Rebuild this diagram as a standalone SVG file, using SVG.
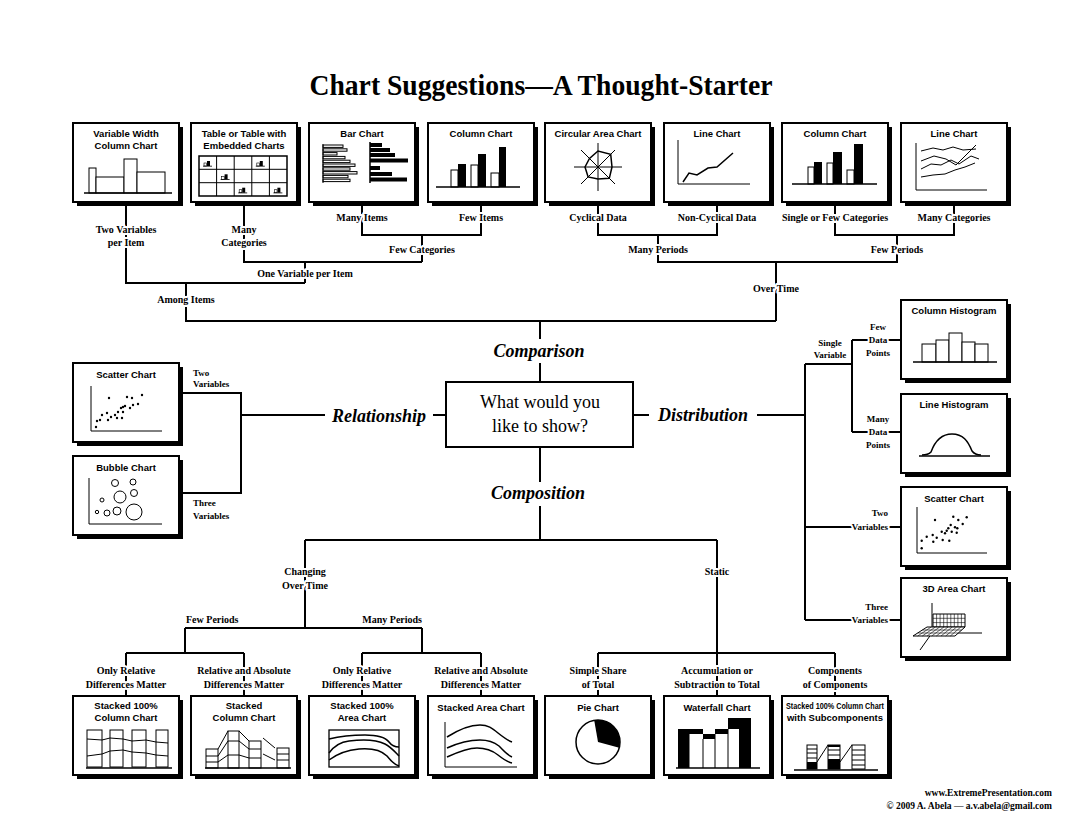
<svg xmlns="http://www.w3.org/2000/svg" xmlns:xlink="http://www.w3.org/1999/xlink" width="1080" height="835" viewBox="0 0 1080 835">
<style>
.bg{fill:#fff}
.sh{fill:#000}
.bx{fill:#fff;stroke:#000;stroke-width:2}
.tt{font-family:"Liberation Sans Narrow","Liberation Sans",Arial,sans-serif;font-weight:bold;font-size:9.5px;text-anchor:middle;fill:#000}
.lb{font-family:"Liberation Serif","Times New Roman",serif;font-weight:bold;font-size:10px;text-anchor:middle;fill:#000;paint-order:stroke;stroke:#fff;stroke-width:4px;stroke-linejoin:round}
.ls{font-size:9px}
.st{text-anchor:start}
.en{text-anchor:end}
.cd{font-family:"Liberation Serif","Times New Roman",serif;font-weight:bold;font-style:italic;font-size:18px;text-anchor:middle;fill:#000}
.cn{stroke:#000;stroke-width:2;fill:none}
.ic{stroke:#000;stroke-width:1;fill:none}
.ik{stroke:#000;stroke-width:1.5;fill:none}
.w{fill:#fff;stroke:#000;stroke-width:1}
.k{fill:#000}
.d{fill:#000}
</style>
<defs>
<g id="frame"><rect class="sh" x="4" y="4" width="106" height="79"/><rect class="bx" x="0" y="0" width="106" height="79"/></g>
<g id="mini"><rect x="1" y="2" width="2.6" height="3" fill="#fff" stroke="#000" stroke-width="0.6"/><rect x="4" y="0" width="3" height="5" fill="#000"/><path d="M0,5.2 H9" stroke="#000" stroke-width="0.8"/></g>
</defs>
<rect class="bg" x="0" y="0" width="1080" height="835"/>

<text x="541" y="95" font-family="'Liberation Serif','Times New Roman',serif" font-weight="bold" font-size="30" text-anchor="middle" textLength="463" lengthAdjust="spacingAndGlyphs">Chart Suggestions—A Thought-Starter</text>

<g id="connectors">
<path class="cn" d="M126,202 V283 H305 M244,202 V262 H422 M362,202 V235 H481 V202 M422,235 V262 M305,262 V283 M186,283 V321 H776 M598,202 V235 H717 V202 M835,202 V235 H954 V202 M658,235 V262 H897 V235 M776,262 V321 M540,321 V339 M540,363 V382"/>
<path class="cn" d="M446,415 H433 M325,415 H241 M182,393 H241 V493 H182"/>
<path class="cn" d="M633,415 H649 M757,415 H805 M805,364 V620 M805,364 H852 M852,340 V432 M852,340 H901 M852,432 H901 M805,527 H901 M805,620 H901"/>
<path class="cn" d="M540,447 V482 M540,506 V540 M305,540 H717 M305,540 V628 M185,628 H422 M185,628 V653 M126,653 H244 M126,653 V696 M244,653 V696 M422,628 V653 M362,653 H481 M362,653 V696 M481,653 V696 M717,540 V653 M598,653 H835 M598,653 V696 M717,653 V696 M835,653 V696"/>
</g>

<g id="labels">
<text class="lb" x="126" y="233">Two Variables</text><text class="lb" x="126" y="246">per Item</text>
<text class="lb" x="244" y="233">Many</text><text class="lb" x="244" y="246">Categories</text>
<text class="lb" x="362" y="221">Many Items</text>
<text class="lb" x="481" y="221">Few Items</text>
<text class="lb" x="422" y="253">Few Categories</text>
<text class="lb" x="305" y="277">One Variable per Item</text>
<text class="lb" x="186" y="303">Among Items</text>
<text class="lb" x="598" y="221">Cyclical Data</text>
<text class="lb" x="717" y="221">Non-Cyclical Data</text>
<text class="lb" x="835" y="221">Single or Few Categories</text>
<text class="lb" x="954" y="221">Many Categories</text>
<text class="lb" x="658" y="253">Many Periods</text>
<text class="lb" x="897" y="253">Few Periods</text>
<text class="lb" x="776" y="292">Over Time</text>
<text class="lb ls st" x="193" y="376">Two</text><text class="lb ls st" x="193" y="387">Variables</text>
<text class="lb ls st" x="193" y="506">Three</text><text class="lb ls st" x="193" y="519">Variables</text>
<text class="lb ls" x="830" y="346">Single</text><text class="lb ls" x="830" y="358">Variable</text>
<text class="lb ls" x="878" y="330">Few</text><text class="lb ls" x="878" y="343">Data</text><text class="lb ls" x="878" y="356">Points</text>
<text class="lb ls" x="878" y="422">Many</text><text class="lb ls" x="878" y="435">Data</text><text class="lb ls" x="878" y="448">Points</text>
<text class="lb ls en" x="888" y="516">Two</text><text class="lb ls en" x="888" y="530">Variables</text>
<text class="lb ls en" x="888" y="610">Three</text><text class="lb ls en" x="888" y="623">Variables</text>
<text class="lb" x="305" y="575">Changing</text><text class="lb" x="305" y="589">Over Time</text>
<text class="lb st" x="186" y="623">Few Periods</text>
<text class="lb en" x="422" y="623">Many Periods</text>
<text class="lb" x="717" y="575">Static</text>
<text class="lb" x="126" y="674">Only Relative</text><text class="lb" x="126" y="688">Differences Matter</text>
<text class="lb" x="244" y="674">Relative and Absolute</text><text class="lb" x="244" y="688">Differences Matter</text>
<text class="lb" x="362" y="674">Only Relative</text><text class="lb" x="362" y="688">Differences Matter</text>
<text class="lb" x="481" y="674">Relative and Absolute</text><text class="lb" x="481" y="688">Differences Matter</text>
<text class="lb" x="598" y="674">Simple Share</text><text class="lb" x="598" y="688">of Total</text>
<text class="lb" x="717" y="674">Accumulation or</text><text class="lb" x="717" y="688">Subtraction to Total</text>
<text class="lb" x="835" y="674">Components</text><text class="lb" x="835" y="688">of Components</text>
<text class="cd" x="539" y="357">Comparison</text>
<text class="cd" x="379" y="422">Relationship</text>
<text class="cd" x="703" y="421">Distribution</text>
<text class="cd" x="538" y="499">Composition</text>
<text class="lb en" x="1052" y="796" style="font-size:9.5px">www.ExtremePresentation.com</text>
<text class="lb en" x="1052" y="809" style="font-size:9.5px">© 2009  A. Abela — a.v.abela@gmail.com</text>
</g>

<g id="center">
<rect x="446" y="382" width="187" height="65" fill="#fff" stroke="#000" stroke-width="2"/>
<text x="540" y="408" font-family="'Liberation Serif','Times New Roman',serif" font-size="18" text-anchor="middle">What would you</text>
<text x="540" y="432" font-family="'Liberation Serif','Times New Roman',serif" font-size="18" text-anchor="middle">like to show?</text>
</g>

<g id="n-varwidth" transform="translate(73,123)"><use xlink:href="#frame"/>
<text class="tt" x="53" y="14">Variable Width</text><text class="tt" x="53" y="26">Column Chart</text>
<rect class="w" x="16" y="45" width="7" height="25"/><rect class="w" x="23" y="54" width="28" height="16"/><rect class="w" x="51" y="36" width="13" height="34"/><rect class="w" x="64" y="49" width="28" height="21"/>
<path class="ik" d="M11,70 H99"/></g>

<g id="n-table" transform="translate(191,123)"><use xlink:href="#frame"/>
<text class="tt" x="53" y="14">Table or Table with</text><text class="tt" x="53" y="26">Embedded Charts</text>
<rect x="8" y="33" width="88" height="40" fill="none" stroke="#000" stroke-width="1.5"/>
<path class="ic" d="M25.6,33 V73 M43.2,33 V73 M60.8,33 V73 M78.4,33 V73 M8,46.3 H96 M8,59.7 H96"/>
<use xlink:href="#mini" x="12" y="38"/><use xlink:href="#mini" x="29.6" y="51.3"/><use xlink:href="#mini" x="64.8" y="38"/><use xlink:href="#mini" x="47.2" y="64.7"/><use xlink:href="#mini" x="82.4" y="64.7"/></g>

<g id="n-bar" transform="translate(309,123)"><use xlink:href="#frame"/>
<text class="tt" x="53" y="14">Bar Chart</text>
<rect class="w" x="14" y="22" width="20" height="2.4"/><rect class="w" x="14" y="25.8" width="24" height="2.4"/><rect class="w" x="14" y="29.6" width="14" height="2.4"/><rect class="w" x="14" y="33.4" width="22" height="2.4"/><rect class="w" x="14" y="37.2" width="27" height="2.4"/><rect class="w" x="14" y="41" width="32" height="2.4"/><rect class="w" x="14" y="44.8" width="27" height="2.4"/><rect class="w" x="14" y="48.6" width="34" height="2.4"/><rect class="w" x="14" y="52.4" width="25" height="2.4"/><rect class="w" x="14" y="56.2" width="27" height="2.4"/>
<path class="ic" d="M14,21 V60"/>
<rect class="k" x="61" y="20" width="12" height="4"/><rect class="k" x="61" y="25" width="20" height="4"/><rect class="k" x="61" y="30" width="25" height="4"/><rect class="k" x="61" y="35.5" width="38" height="4"/><rect class="k" x="61" y="43" width="10" height="4"/><rect class="k" x="61" y="49" width="22" height="4"/><rect class="k" x="61" y="54.5" width="37" height="4"/>
<path class="ik" d="M61,19 V60"/></g>

<g id="n-column1" transform="translate(428,123)"><use xlink:href="#frame"/>
<text class="tt" x="53" y="14">Column Chart</text>
<rect class="w" x="23" y="47" width="7" height="17"/><rect class="k" x="30" y="41" width="8" height="23"/><rect class="w" x="43" y="42" width="7" height="22"/><rect class="k" x="50" y="31" width="8" height="33"/><rect class="w" x="63" y="50" width="8" height="14"/><rect class="k" x="71" y="24" width="7" height="40"/>
<path class="ik" d="M8,64 H92"/></g>

<g id="n-circular" transform="translate(545,123)"><use xlink:href="#frame"/>
<text class="tt" x="53" y="14">Circular Area Chart</text>
<path class="ic" d="M29,44 H77 M53,20 V68 M36,27 L70,61 M70,27 L36,61"/>
<polygon points="67,44 64.3,55.3 53,56 43.1,53.9 40,44 44.5,35.5 53,28 65.7,31.3" fill="none" stroke="#000" stroke-width="1.5"/></g>

<g id="n-line1" transform="translate(664,123)"><use xlink:href="#frame"/>
<text class="tt" x="53" y="14">Line Chart</text>
<path class="ic" d="M14,17 V61 H86"/>
<polyline class="ik" points="19,59 25,50 33,52 44,45 53,44 69,30"/></g>

<g id="n-column2" transform="translate(782,123)"><use xlink:href="#frame"/>
<text class="tt" x="53" y="14">Column Chart</text>
<rect class="w" x="26" y="44" width="6" height="17"/><rect class="k" x="32" y="39" width="8" height="22"/><rect class="w" x="45" y="40" width="6" height="21"/><rect class="k" x="51" y="29" width="9" height="32"/><rect class="w" x="65" y="47" width="7" height="14"/><rect class="k" x="72" y="21" width="9" height="40"/>
<path class="ik" d="M10,61 H95"/></g>

<g id="n-line2" transform="translate(901,123)"><use xlink:href="#frame"/>
<text class="tt" x="53" y="14">Line Chart</text>
<path class="ic" d="M15,20 V67 H86"/>
<polyline class="ic" points="20,28 32,25 42,27 52,24 62,27 75,26"/>
<polyline class="ic" points="20,38 33,33 45,36 55,42 65,32 75,22"/>
<polyline class="ic" points="20,46 30,41 40,42 50,37 58,41 70,33 78,36"/>
<polyline class="ic" points="20,54 32,52 44,51 54,47 64,44 74,40"/></g>

<g id="n-scatter1" transform="translate(73,363)"><use xlink:href="#frame"/>
<text class="tt" x="53" y="15">Scatter Chart</text>
<path class="ic" d="M18,23 V68 H89"/>
<g class="d"><circle cx="23" cy="64" r="1.2"/><circle cx="24" cy="58" r="1.2"/><circle cx="27" cy="57" r="1.2"/><circle cx="29" cy="52" r="1.2"/><circle cx="34" cy="50" r="1.2"/><circle cx="35" cy="57" r="1.2"/><circle cx="38" cy="54" r="1.2"/><circle cx="42" cy="52" r="1.2"/><circle cx="44" cy="55" r="1.2"/><circle cx="45" cy="49" r="1.2"/><circle cx="48" cy="45" r="1.2"/><circle cx="50" cy="44" r="1.2"/><circle cx="50" cy="49" r="1.2"/><circle cx="52" cy="43" r="1.2"/><circle cx="54" cy="34" r="1.2"/><circle cx="57" cy="45" r="1.2"/><circle cx="59" cy="35" r="1.2"/><circle cx="60" cy="42" r="1.2"/><circle cx="65" cy="41" r="1.2"/><circle cx="69" cy="32" r="1.2"/><circle cx="36" cy="35" r="1.2"/><circle cx="49" cy="55" r="1.2"/></g></g>

<g id="n-bubble" transform="translate(73,456)"><use xlink:href="#frame"/>
<text class="tt" x="53" y="15">Bubble Chart</text>
<path class="ic" d="M16,22 V68 H89"/>
<g class="ic"><circle cx="42" cy="27" r="3.5"/><circle cx="60" cy="26" r="3"/><circle cx="47" cy="41" r="6"/><circle cx="61" cy="37" r="3.5"/><circle cx="29" cy="44" r="2"/><circle cx="24" cy="56" r="1.7"/><circle cx="34" cy="57" r="3"/><circle cx="44" cy="55" r="4"/><circle cx="61" cy="56" r="8"/></g></g>

<g id="n-colhist" transform="translate(901,300)"><use xlink:href="#frame"/>
<text class="tt" x="53" y="14">Column Histogram</text>
<rect class="w" x="21" y="44" width="14" height="18"/><rect class="w" x="35" y="40" width="13" height="22"/><rect class="w" x="48" y="33" width="13" height="29"/><rect class="w" x="61" y="42" width="13" height="20"/><rect class="w" x="74" y="44" width="13" height="18"/>
<path class="ik" d="M12,62 H96"/></g>

<g id="n-linehist" transform="translate(901,394)"><use xlink:href="#frame"/>
<text class="tt" x="53" y="14">Line Histogram</text>
<path class="ik" d="M18,62 H89"/>
<path class="ik" d="M21,61 Q27,61 30,58 C34,47 40,40 51,40 C62,40 67,47 71,57 Q74,61 80,61"/></g>

<g id="n-scatter2" transform="translate(901,487)"><use xlink:href="#frame"/>
<text class="tt" x="53" y="15">Scatter Chart</text>
<path class="ic" d="M16,20 V66 H86"/>
<g class="d"><circle cx="20.7" cy="61.3" r="1.2"/><circle cx="20.7" cy="53.7" r="1.2"/><circle cx="25.7" cy="49.7" r="1.2"/><circle cx="31.7" cy="48" r="1.2"/><circle cx="32.3" cy="54.7" r="1.2"/><circle cx="35.7" cy="50.7" r="1.2"/><circle cx="40.7" cy="44.7" r="1.2"/><circle cx="41.7" cy="53" r="1.2"/><circle cx="44" cy="46.3" r="1.2"/><circle cx="45.7" cy="43.7" r="1.2"/><circle cx="47.3" cy="41.3" r="1.2"/><circle cx="48.3" cy="53.7" r="1.2"/><circle cx="49.7" cy="38" r="1.2"/><circle cx="50.7" cy="44.7" r="1.2"/><circle cx="52.3" cy="29.7" r="1.2"/><circle cx="54" cy="40.3" r="1.2"/><circle cx="55.7" cy="45.7" r="1.2"/><circle cx="57.3" cy="33" r="1.2"/><circle cx="61.7" cy="37" r="1.2"/><circle cx="65.7" cy="30.3" r="1.2"/><circle cx="34" cy="33" r="1.2"/><circle cx="56.3" cy="41.3" r="1.2"/></g></g>

<g id="n-3darea" transform="translate(901,578)"><use xlink:href="#frame"/>
<text class="tt" x="53" y="14">3D Area Chart</text>
<path class="ic" d="M31,25 V55 H81 M31,55 L19,72"/>
<polygon points="32,36 64,36 64,49 32,49" fill="#fff" stroke="#000" stroke-width="1"/>
<path stroke="#000" stroke-width="0.6" fill="none" d="M35.6,36 V49 M39.1,36 V49 M42.7,36 V49 M46.2,36 V49 M49.8,36 V49 M53.3,36 V49 M56.9,36 V49 M60.4,36 V49 M32,40.3 H64 M32,44.6 H64"/>
<polygon points="26,49 64,49 54,58 12,58" fill="#fff" stroke="#000" stroke-width="1"/>
<path stroke="#000" stroke-width="0.6" fill="none" d="M21.3,52 H60.7 M16.7,55 H57.3 M30.2,49 L16.7,58 M34.4,49 L21.3,58 M38.7,49 L26,58 M42.9,49 L30.7,58 M47.1,49 L35.3,58 M51.3,49 L40,58 M55.6,49 L44.7,58 M59.8,49 L49.3,58"/></g>

<g id="n-stk100col" transform="translate(73,696)"><use xlink:href="#frame"/>
<text class="tt" x="53" y="13">Stacked 100%</text><text class="tt" x="53" y="25">Column Chart</text>
<rect class="w" x="14" y="34" width="15" height="37"/><rect class="w" x="37" y="34" width="13" height="37"/><rect class="w" x="59" y="34" width="14" height="37"/><rect class="w" x="83" y="34" width="12" height="37"/>
<polyline class="ic" points="14,43 29,44 37,42 50,43 59,45 73,44 83,46 95,47"/>
<polyline class="ic" points="14,60 29,58 37,55 50,54 59,56 73,57 83,59 95,60"/>
<path class="ik" d="M13,72 H99"/></g>

<g id="n-stkcol" transform="translate(191,696)"><use xlink:href="#frame"/>
<text class="tt" x="53" y="13">Stacked</text><text class="tt" x="53" y="25">Column Chart</text>
<rect class="w" x="15" y="53" width="12" height="19"/><rect class="w" x="37" y="35" width="11" height="37"/><rect class="w" x="58" y="45" width="12" height="27"/><rect class="w" x="86" y="52" width="12" height="20"/>
<path class="ic" d="M15,60 H27 M15,66 H27 M37,45 H48 M37,59 H48 M58,53 H70 M58,62 H70 M86,58 H98 M86,64 H98 M27,53 L37,35 M27,60 L37,45 M27,66 L37,59 M48,35 L58,45 M48,45 L58,53 M48,59 L58,62 M72,42 L84,52 M72,58 L84,64"/>
<path class="ik" d="M14,72 H100"/></g>

<g id="n-stk100area" transform="translate(309,696)"><use xlink:href="#frame"/>
<text class="tt" x="53" y="13">Stacked 100%</text><text class="tt" x="53" y="25">Area Chart</text>
<rect x="20" y="34" width="70" height="37" fill="#fff" stroke="#000" stroke-width="1.3"/>
<path class="ik" d="M20,43 C32,40 45,39 56,39 C68,39 76,41 80,46 C83,50 86,51 90,51"/>
<path class="ik" d="M20,57 C25,50 31,46 40,45 C55,43 68,44 76,48 C82,51 86,56 90,60"/>
<path class="ik" d="M20,64 C28,58 38,54 50,53 C62,52 72,54 78,60 C82,65 86,69 90,70"/></g>

<g id="n-stkarea" transform="translate(428,696)"><use xlink:href="#frame"/>
<text class="tt" x="53" y="15">Stacked Area Chart</text>
<path class="ic" d="M17,26 V71 H89"/>
<path class="ik" d="M19,41 C30,34 42,29 52,29 C60,29 64,32 70,37 C75,41 79,44 84,46"/>
<path class="ik" d="M19,52 C30,47 42,44 52,44 C60,44 66,46 71,50 C76,55 79,59 84,61"/>
<path class="ik" d="M19,61 C30,56 40,52 49,52 C58,52 65,55 70,59 C75,63 79,66 84,67"/></g>

<g id="n-pie" transform="translate(545,696)"><use xlink:href="#frame"/>
<text class="tt" x="53" y="15">Pie Chart</text>
<circle cx="53" cy="46" r="22" fill="#fff" stroke="#000" stroke-width="1.5"/>
<path class="k" d="M53,46 L49.2,24.3 A22,22 0 0 1 74.2,51.7 Z"/></g>

<g id="n-waterfall" transform="translate(664,696)"><use xlink:href="#frame"/>
<text class="tt" x="53" y="15">Waterfall Chart</text>
<path class="ic" d="M25,38 V72 M39,43 V72 M51,38 V72 M64,33 V72"/>
<rect class="k" x="14" y="33" width="11" height="39"/>
<rect class="k" x="25" y="33" width="14" height="5"/>
<rect class="k" x="39" y="38" width="12" height="5"/>
<rect class="k" x="51" y="33" width="13" height="5"/>
<rect class="k" x="64" y="22" width="11" height="11"/>
<rect class="k" x="75" y="22" width="12" height="50"/>
<path class="ik" d="M12,72 H96"/></g>

<g id="n-subcomp" transform="translate(782,696)"><use xlink:href="#frame"/>
<text class="tt" x="53" y="13" textLength="98" lengthAdjust="spacingAndGlyphs">Stacked 100% Column Chart</text><text class="tt" x="53" y="25">with Subcomponents</text>
<rect class="w" x="25" y="49" width="10" height="24"/><rect class="w" x="46" y="49" width="12" height="24"/><rect class="w" x="70" y="49" width="13" height="24"/>
<path class="ic" d="M25,53 H35 M25,57 H35 M25,62 H35 M46,54 H58 M46,59 H58 M70,54 H83 M70,59 H83 M70,64 H83 M70,69 H83 M35,66 L46,49 M58,66 L70,49"/>
<rect class="k" x="25" y="66" width="10" height="7"/><rect class="k" x="46" y="63" width="12" height="10"/><rect class="k" x="46" y="49" width="12" height="2"/>
<path class="ik" d="M12,74 H96"/></g>
</svg>
